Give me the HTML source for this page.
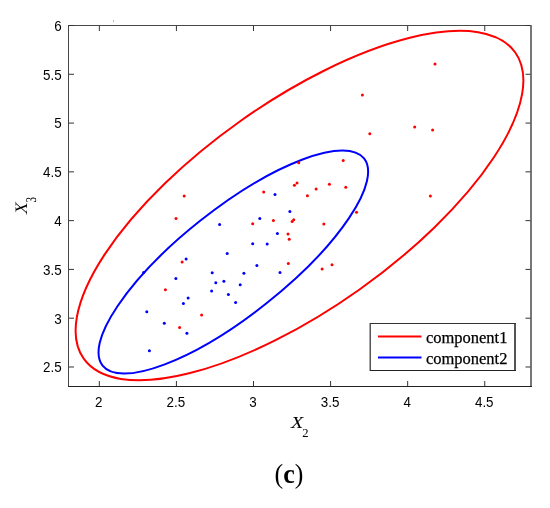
<!DOCTYPE html><html><head><meta charset="utf-8"><style>
html,body{margin:0;padding:0;background:#fff;width:550px;height:508px;overflow:hidden}
svg{display:block}
.lg{stroke:#000;stroke-width:0.25px}
.tk{font-family:"Liberation Sans",Arial,sans-serif;font-size:13.4px;fill:#000}
.sr{font-family:"Liberation Serif","Times New Roman",serif;fill:#000}
</style></head><body>
<svg width="550" height="508" viewBox="0 0 550 508" xmlns="http://www.w3.org/2000/svg">
<rect width="550" height="508" fill="#fff"/>
<defs><clipPath id="c"><rect x="68.5" y="25.5" width="462.5" height="361"/></clipPath></defs>
<g clip-path="url(#c)">
<ellipse cx="299.49" cy="205.58" rx="264.58" ry="103.17" transform="rotate(-35.36 299.49 205.58)" fill="none" stroke="#ff0000" stroke-width="2.0"/>
<ellipse cx="233.32" cy="262.05" rx="166.78" ry="52.91" transform="rotate(-38.39 233.32 262.05)" fill="none" stroke="#0000ff" stroke-width="2.0"/>
<circle cx="184.2" cy="196.1" r="1.5" fill="#ff0000"/>
<circle cx="176.0" cy="218.6" r="1.5" fill="#ff0000"/>
<circle cx="252.7" cy="223.8" r="1.5" fill="#ff0000"/>
<circle cx="182.1" cy="262" r="1.5" fill="#ff0000"/>
<circle cx="165.4" cy="289.7" r="1.5" fill="#ff0000"/>
<circle cx="201.6" cy="315.1" r="1.5" fill="#ff0000"/>
<circle cx="179.6" cy="327.4" r="1.5" fill="#ff0000"/>
<circle cx="263.7" cy="192" r="1.5" fill="#ff0000"/>
<circle cx="294.4" cy="185.2" r="1.5" fill="#ff0000"/>
<circle cx="297" cy="183.1" r="1.5" fill="#ff0000"/>
<circle cx="316.1" cy="189" r="1.5" fill="#ff0000"/>
<circle cx="329.4" cy="184.3" r="1.5" fill="#ff0000"/>
<circle cx="307.4" cy="195.8" r="1.5" fill="#ff0000"/>
<circle cx="273.4" cy="220.4" r="1.5" fill="#ff0000"/>
<circle cx="292.1" cy="221.6" r="1.5" fill="#ff0000"/>
<circle cx="293.7" cy="219.7" r="1.5" fill="#ff0000"/>
<circle cx="323.8" cy="224.1" r="1.5" fill="#ff0000"/>
<circle cx="288" cy="234.1" r="1.5" fill="#ff0000"/>
<circle cx="289.2" cy="239.3" r="1.5" fill="#ff0000"/>
<circle cx="288.3" cy="263.6" r="1.5" fill="#ff0000"/>
<circle cx="322.1" cy="269.1" r="1.5" fill="#ff0000"/>
<circle cx="332" cy="264.8" r="1.5" fill="#ff0000"/>
<circle cx="343.2" cy="160.6" r="1.5" fill="#ff0000"/>
<circle cx="345.8" cy="187.3" r="1.5" fill="#ff0000"/>
<circle cx="356.5" cy="212.3" r="1.5" fill="#ff0000"/>
<circle cx="430.4" cy="195.9" r="1.5" fill="#ff0000"/>
<circle cx="435" cy="64.1" r="1.5" fill="#ff0000"/>
<circle cx="362.4" cy="95" r="1.5" fill="#ff0000"/>
<circle cx="414.7" cy="126.9" r="1.5" fill="#ff0000"/>
<circle cx="432.6" cy="130" r="1.5" fill="#ff0000"/>
<circle cx="369.8" cy="133.8" r="1.5" fill="#ff0000"/>
<circle cx="298.7" cy="162.8" r="1.5" fill="#ff0000"/>
<circle cx="219.6" cy="224.4" r="1.5" fill="#0000ff"/>
<circle cx="259.8" cy="218.5" r="1.5" fill="#0000ff"/>
<circle cx="252.7" cy="243.8" r="1.5" fill="#0000ff"/>
<circle cx="227.2" cy="253.5" r="1.5" fill="#0000ff"/>
<circle cx="186.1" cy="259.1" r="1.5" fill="#0000ff"/>
<circle cx="256.9" cy="265.5" r="1.5" fill="#0000ff"/>
<circle cx="212.2" cy="272.7" r="1.5" fill="#0000ff"/>
<circle cx="243.9" cy="273.3" r="1.5" fill="#0000ff"/>
<circle cx="175.9" cy="278.4" r="1.5" fill="#0000ff"/>
<circle cx="215.8" cy="282.8" r="1.5" fill="#0000ff"/>
<circle cx="223.9" cy="281.3" r="1.5" fill="#0000ff"/>
<circle cx="240.2" cy="284.7" r="1.5" fill="#0000ff"/>
<circle cx="211.6" cy="291" r="1.5" fill="#0000ff"/>
<circle cx="228.4" cy="294.5" r="1.5" fill="#0000ff"/>
<circle cx="188.1" cy="298" r="1.5" fill="#0000ff"/>
<circle cx="183.4" cy="303.5" r="1.5" fill="#0000ff"/>
<circle cx="146.8" cy="311.8" r="1.5" fill="#0000ff"/>
<circle cx="164.3" cy="323.2" r="1.5" fill="#0000ff"/>
<circle cx="186.9" cy="333.3" r="1.5" fill="#0000ff"/>
<circle cx="149.4" cy="350.8" r="1.5" fill="#0000ff"/>
<circle cx="275" cy="194.6" r="1.5" fill="#0000ff"/>
<circle cx="289.9" cy="211.4" r="1.5" fill="#0000ff"/>
<circle cx="277.4" cy="233.6" r="1.5" fill="#0000ff"/>
<circle cx="267.2" cy="244" r="1.5" fill="#0000ff"/>
<circle cx="280" cy="272.6" r="1.5" fill="#0000ff"/>
<circle cx="235.6" cy="302.4" r="1.5" fill="#0000ff"/>
<circle cx="143.6" cy="272.6" r="1.5" fill="#0000ff"/>
</g>
<path d="M68 25.5H530" stroke="#484848" stroke-width="1" fill="none"/>
<path d="M68.5 25V386" stroke="#444" stroke-width="1" fill="none"/>
<path d="M531 25V386" stroke="#777" stroke-width="2" fill="none"/>
<path d="M68 386.5H532" stroke="#222" stroke-width="1" fill="none"/>
<rect x="113" y="20" width="1" height="2" fill="#bbb"/>
<path d="M99.33 386V381M99.33 26V31M176.42 386V381M176.42 26V31M253.50 386V381M253.50 26V31M330.58 386V381M330.58 26V31M407.67 386V381M407.67 26V31M484.75 386V381M484.75 26V31M69 366.99H74M530.5 366.99H525.5M69 318.20H74M530.5 318.20H525.5M69 269.42H74M530.5 269.42H525.5M69 220.64H74M530.5 220.64H525.5M69 171.85H74M530.5 171.85H525.5M69 123.07H74M530.5 123.07H525.5M69 74.28H74M530.5 74.28H525.5M69 25.50H74M530.5 25.50H525.5" stroke="#333" stroke-width="1" fill="none"/>
<text class="tk" transform="translate(98.83 406.6) scale(1 1.07)" text-anchor="middle">2</text>
<text class="tk" transform="translate(175.92 406.6) scale(1 1.07)" text-anchor="middle">2.5</text>
<text class="tk" transform="translate(253.00 406.6) scale(1 1.07)" text-anchor="middle">3</text>
<text class="tk" transform="translate(330.08 406.6) scale(1 1.07)" text-anchor="middle">3.5</text>
<text class="tk" transform="translate(407.17 406.6) scale(1 1.07)" text-anchor="middle">4</text>
<text class="tk" transform="translate(484.25 406.6) scale(1 1.07)" text-anchor="middle">4.5</text>
<text class="tk" transform="translate(61.6 372.39) scale(1 1.07)" text-anchor="end">2.5</text>
<text class="tk" transform="translate(61.6 323.60) scale(1 1.07)" text-anchor="end">3</text>
<text class="tk" transform="translate(61.6 274.82) scale(1 1.07)" text-anchor="end">3.5</text>
<text class="tk" transform="translate(61.6 226.04) scale(1 1.07)" text-anchor="end">4</text>
<text class="tk" transform="translate(61.6 177.25) scale(1 1.07)" text-anchor="end">4.5</text>
<text class="tk" transform="translate(61.6 128.47) scale(1 1.07)" text-anchor="end">5</text>
<text class="tk" transform="translate(61.6 79.68) scale(1 1.07)" text-anchor="end">5.5</text>
<text class="tk" transform="translate(61.6 30.90) scale(1 1.07)" text-anchor="end">6</text>
<text class="sr" transform="translate(290.9 427.6) scale(1.15 1)" font-size="17.4" font-style="italic">X</text>
<text class="sr" x="302.2" y="436.6" font-size="12.6">2</text>
<g transform="translate(26.6 214.0) rotate(-90)" text-rendering="geometricPrecision"><text class="sr" transform="scale(1.1 1)" font-size="17.5" font-style="italic">X</text><text class="sr" transform="translate(11.5 9) scale(0.74 1)" font-size="15">3</text></g>
<rect x="370" y="323" width="145" height="48" fill="#fff"/>
<path d="M370.25 323V371" stroke="#555" stroke-width="1.5" fill="none"/>
<path d="M515 323V371" stroke="#555" stroke-width="2" fill="none"/>
<path d="M370 323.5H516" stroke="#333" stroke-width="1" fill="none"/>
<path d="M370 370.5H516" stroke="#222" stroke-width="1" fill="none"/>
<path d="M378 336.5H421.5" stroke="#ff0000" stroke-width="2"/>
<path d="M378 357.5H421.5" stroke="#0000ff" stroke-width="2"/>
<text class="sr lg" x="425.9" y="342.7" font-size="16.5">component1</text>
<text class="sr lg" x="425.9" y="363.7" font-size="16.5">component2</text>
<text class="sr" transform="translate(274.5 482.6) scale(1 1.055)" font-size="26">(<tspan font-weight="bold">c</tspan>)</text>
</svg></body></html>
